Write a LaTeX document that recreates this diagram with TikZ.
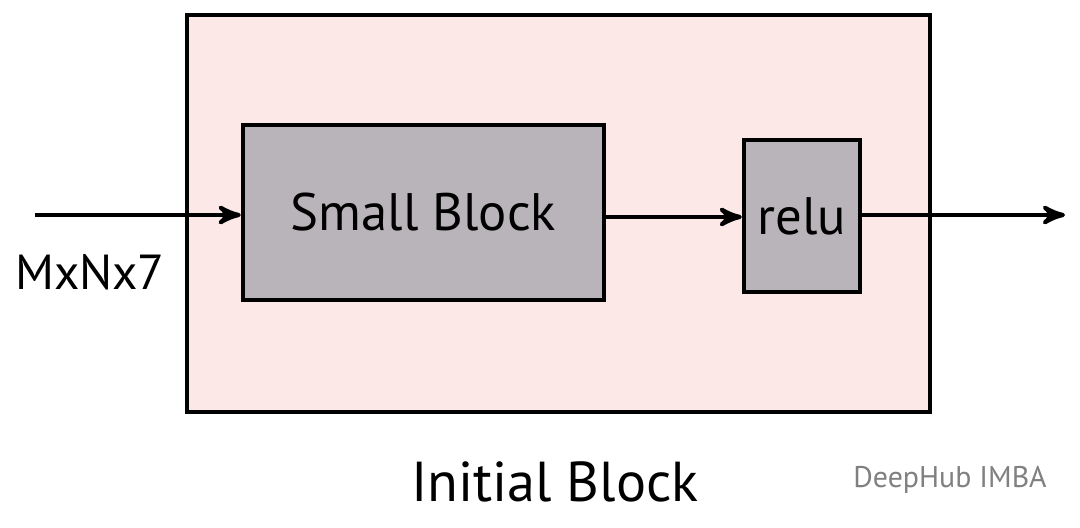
\documentclass[tikz,border=0pt]{standalone}
\usepackage{fontspec}
\setmainfont{PT Sans}
\usetikzlibrary{arrows,positioning}
\definecolor{blockpink}{HTML}{FDE8E8}
\definecolor{blockgray}{HTML}{B9B4B9}
\begin{document}
\begin{tikzpicture}[x=0.01cm,y=0.01cm,
        box/.style={draw=black,line width=1.2pt,fill=blockgray,inner sep=0pt},
        flow/.style={->,>=stealth',line width=1.2pt}]
        \useasboundingbox (0,0) rectangle (1080,528);
        % outer block
        \node[draw=black,line width=1.2pt,fill=blockpink,inner sep=0pt,
              minimum width=7.43cm,minimum height=3.97cm] (Initial) at (558.5,314.5) {};
        \node[box,minimum width=3.61cm,minimum height=1.75cm,font=\fontsize{15}{18}\selectfont] (Small) at (423.5,315.5) {Small Block};
        \node[box,minimum width=1.16cm,minimum height=1.52cm,font=\fontsize{15}{18}\selectfont] (Relu) at (802,312) {relu};
        \coordinate (In) at (35,313);
        \coordinate (Out) at (1065,313);
        \draw[flow] (In) -- (Small.west |- In);
        \draw[flow] (Small.east |- 0,311) -- (Relu.west |- 0,311);
        \draw[flow] (Relu.east |- Out) -- (Out);
        \node[font=\fontsize{14}{17}\selectfont] (Dims) at (90,256) {MxNx7};
        \node[font=\fontsize{16}{19}\selectfont] (Name) at (555,46) {Initial Block};
        \node[text=gray,font=\fontsize{8.5}{10}\selectfont] (Mark) at (950,48) {DeepHub IMBA};
\end{tikzpicture}
\end{document}
